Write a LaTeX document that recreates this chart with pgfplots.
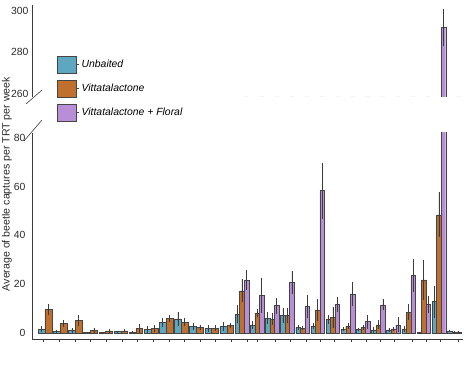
\documentclass[border=0pt]{standalone}
\usepackage{fontspec}
\setmainfont{Liberation Sans}
\usepackage{pgfplots}
\usepackage{pgfplotstable}
\pgfplotsset{compat=1.18}
\definecolor{cUn}{HTML}{5FA6C1}
\definecolor{cVi}{HTML}{BF6F2E}
\definecolor{cFl}{HTML}{B88ED6}
\definecolor{edge}{HTML}{454545}
\definecolor{axc}{HTML}{3A3A3A}
\definecolor{errc}{HTML}{3C3C3C}
\definecolor{txt}{HTML}{2A2A2A}

% groups 1-13: Unbaited (b) and Vittatalactone (o) only
\pgfplotstableread{
g  b    be   o    oe
1  1.5  1.2  9.5  2.2
2  0.5  0.6  4.0  1.4
3  1.0  1.0  5.1  2.3
4  0.2  0.2  1.0  1.0
5  0.1  0.1  0.8  0.8
6  0.5  0.4  0.8  0.6
7  0.4  0.3  1.9  1.8
8  1.5  1.5  1.8  1.6
9  4.2  1.9  5.9  1.3
10 5.7  2.8  4.4  1.5
11 2.6  1.5  2.3  1.1
12 1.8  1.4  2.0  1.2
13 2.7  1.8  3.0  1.0
}\lefttab

% groups 14-28: all three treatments
\pgfplotstableread{
g  b    be   o    oe   p     pe
14 7.7  3.8  17.2 4.7  21.6  4.2
15 3.3  1.6  8.1  1.7  15.3  7.1
16 6.0  2.5  5.6  2.5  11.2  3.3
17 7.1  3.0  7.1  3.0  20.6  4.8
18 2.3  1.0  1.9  0.8  10.8  4.7
19 2.9  1.3  9.4  4.4  58.3  11.5
20 5.6  1.8  6.4  4.4  11.7  3.2
21 1.5  0.8  2.9  1.1  16.0  5.0
22 1.5  0.7  2.3  1.0  4.6   2.8
23 1.2  1.1  3.3  1.8  11.5  2.3
24 1.2  0.9  1.6  1.0  3.3   3.1
25 1.6  1.3  8.5  3.3  23.5  6.8
26 0.1  0.1  21.7 8.2  11.7  3.4
27 12.8 6.5  48.4 9.2  292.0 9.0
28 0.8  0.5  0.4  0.3  0.4   0.3
}\righttab

\pgfplotsset{
  mybar/.style={ybar, bar shift=0pt, draw=edge, line width=0.45pt,
    legend image code/.code={\path (0pt,0pt) -- (22pt,0pt);\draw[##1] (0pt,-8.3pt) rectangle (19pt,8.7pt);},
    error bars/y dir=both, error bars/y explicit, error bars/error mark=none,
    error bars/error bar style={color=errc, line width=0.7pt}},
  common/.style={
    scale only axis, width=431pt,
    xmin=0.142, xmax=28.59,
    tick label style={font=\fontsize{10.4}{12}\selectfont, text=txt},
    /pgf/number format/assume math mode=true,
    axis line style={draw=axc, line width=0.6pt, -},
    y tick style={draw=none},
  },
}

\begin{document}
\begin{tikzpicture}
\useasboundingbox (0,0) rectangle (474pt,366pt);

% lower panel
\begin{axis}[common, name=lower,
  at={(32pt,27pt)}, anchor=south west,
  height=206pt,
  ymin=-2.5, ymax=81.9,
  axis x line*=bottom, axis y line*=left,
  ytick={0,20,40,60,80},
  xtick={0.888,1.944,2.980,4.017,5.073,6.102,7.119,8.149,9.185,10.195,11.231,12.267,13.323,14.353,15.013,16.182,17.172,18.228,19.198,20.076,21.198,22.234,23.158,24.056,25.244,26.149,27.119,28.281},
  xticklabels={},
  tick align=outside, major tick length=3pt,
  x tick style={draw=axc, line width=0.5pt},
  ylabel={Average of beetle captures per TRT per week},
  every axis y label/.style={at={(axis description cs:-0.058,0.752)}, rotate=90, anchor=center, font=\fontsize{10.6}{12}\selectfont, text=txt},
  legend style={at={(axis description cs:0.058,1.376)}, anchor=north west,
    draw=none, fill=none, font=\fontsize{10.4}{12}\selectfont\itshape,
    row sep=6.5pt, inner sep=0pt, cells={anchor=west}},
]
\addplot[mybar, fill=cUn, bar width=0.45, forget plot] table[x expr=\thisrow{g}-0.225, y=b, y error=be]{\lefttab};
\addplot[mybar, fill=cVi, bar width=0.45, forget plot] table[x expr=\thisrow{g}+0.225, y=o, y error=oe]{\lefttab};
\addplot[mybar, fill=cUn, bar width=0.3] table[x expr=\thisrow{g}-0.3, y=b, y error=be]{\righttab};
\addlegendentry{Unbaited}
\addplot[mybar, fill=cVi, bar width=0.3] table[x expr=\thisrow{g}, y=o, y error=oe]{\righttab};
\addlegendentry{Vittatalactone}
\addplot[mybar, fill=cFl, bar width=0.3] table[x expr=\thisrow{g}+0.3, y=p, y error=pe]{\righttab};
\addlegendentry{Vittatalactone + Floral}
\end{axis}

% upper panel
\begin{axis}[common, name=upper,
  at={(32pt,269pt)}, anchor=south west,
  height=92pt,
  ymin=258.5, ymax=302.8,
  axis x line=none, axis y line*=left,
  ytick={260,280,300},
]
\addplot[mybar, fill=cFl, bar width=0.3] table[x expr=\thisrow{g}+0.3, y=p, y error=pe]{\righttab};
\end{axis}

% axis-break marks
\draw[axc, line width=0.6pt] ([shift={(-8pt,-8pt)}]lower.north west) -- ++(18pt,21pt);
\draw[axc, line width=0.6pt] ([shift={(-6pt,-7pt)}]upper.south west) -- ++(16pt,14pt);
\end{tikzpicture}
\end{document}
